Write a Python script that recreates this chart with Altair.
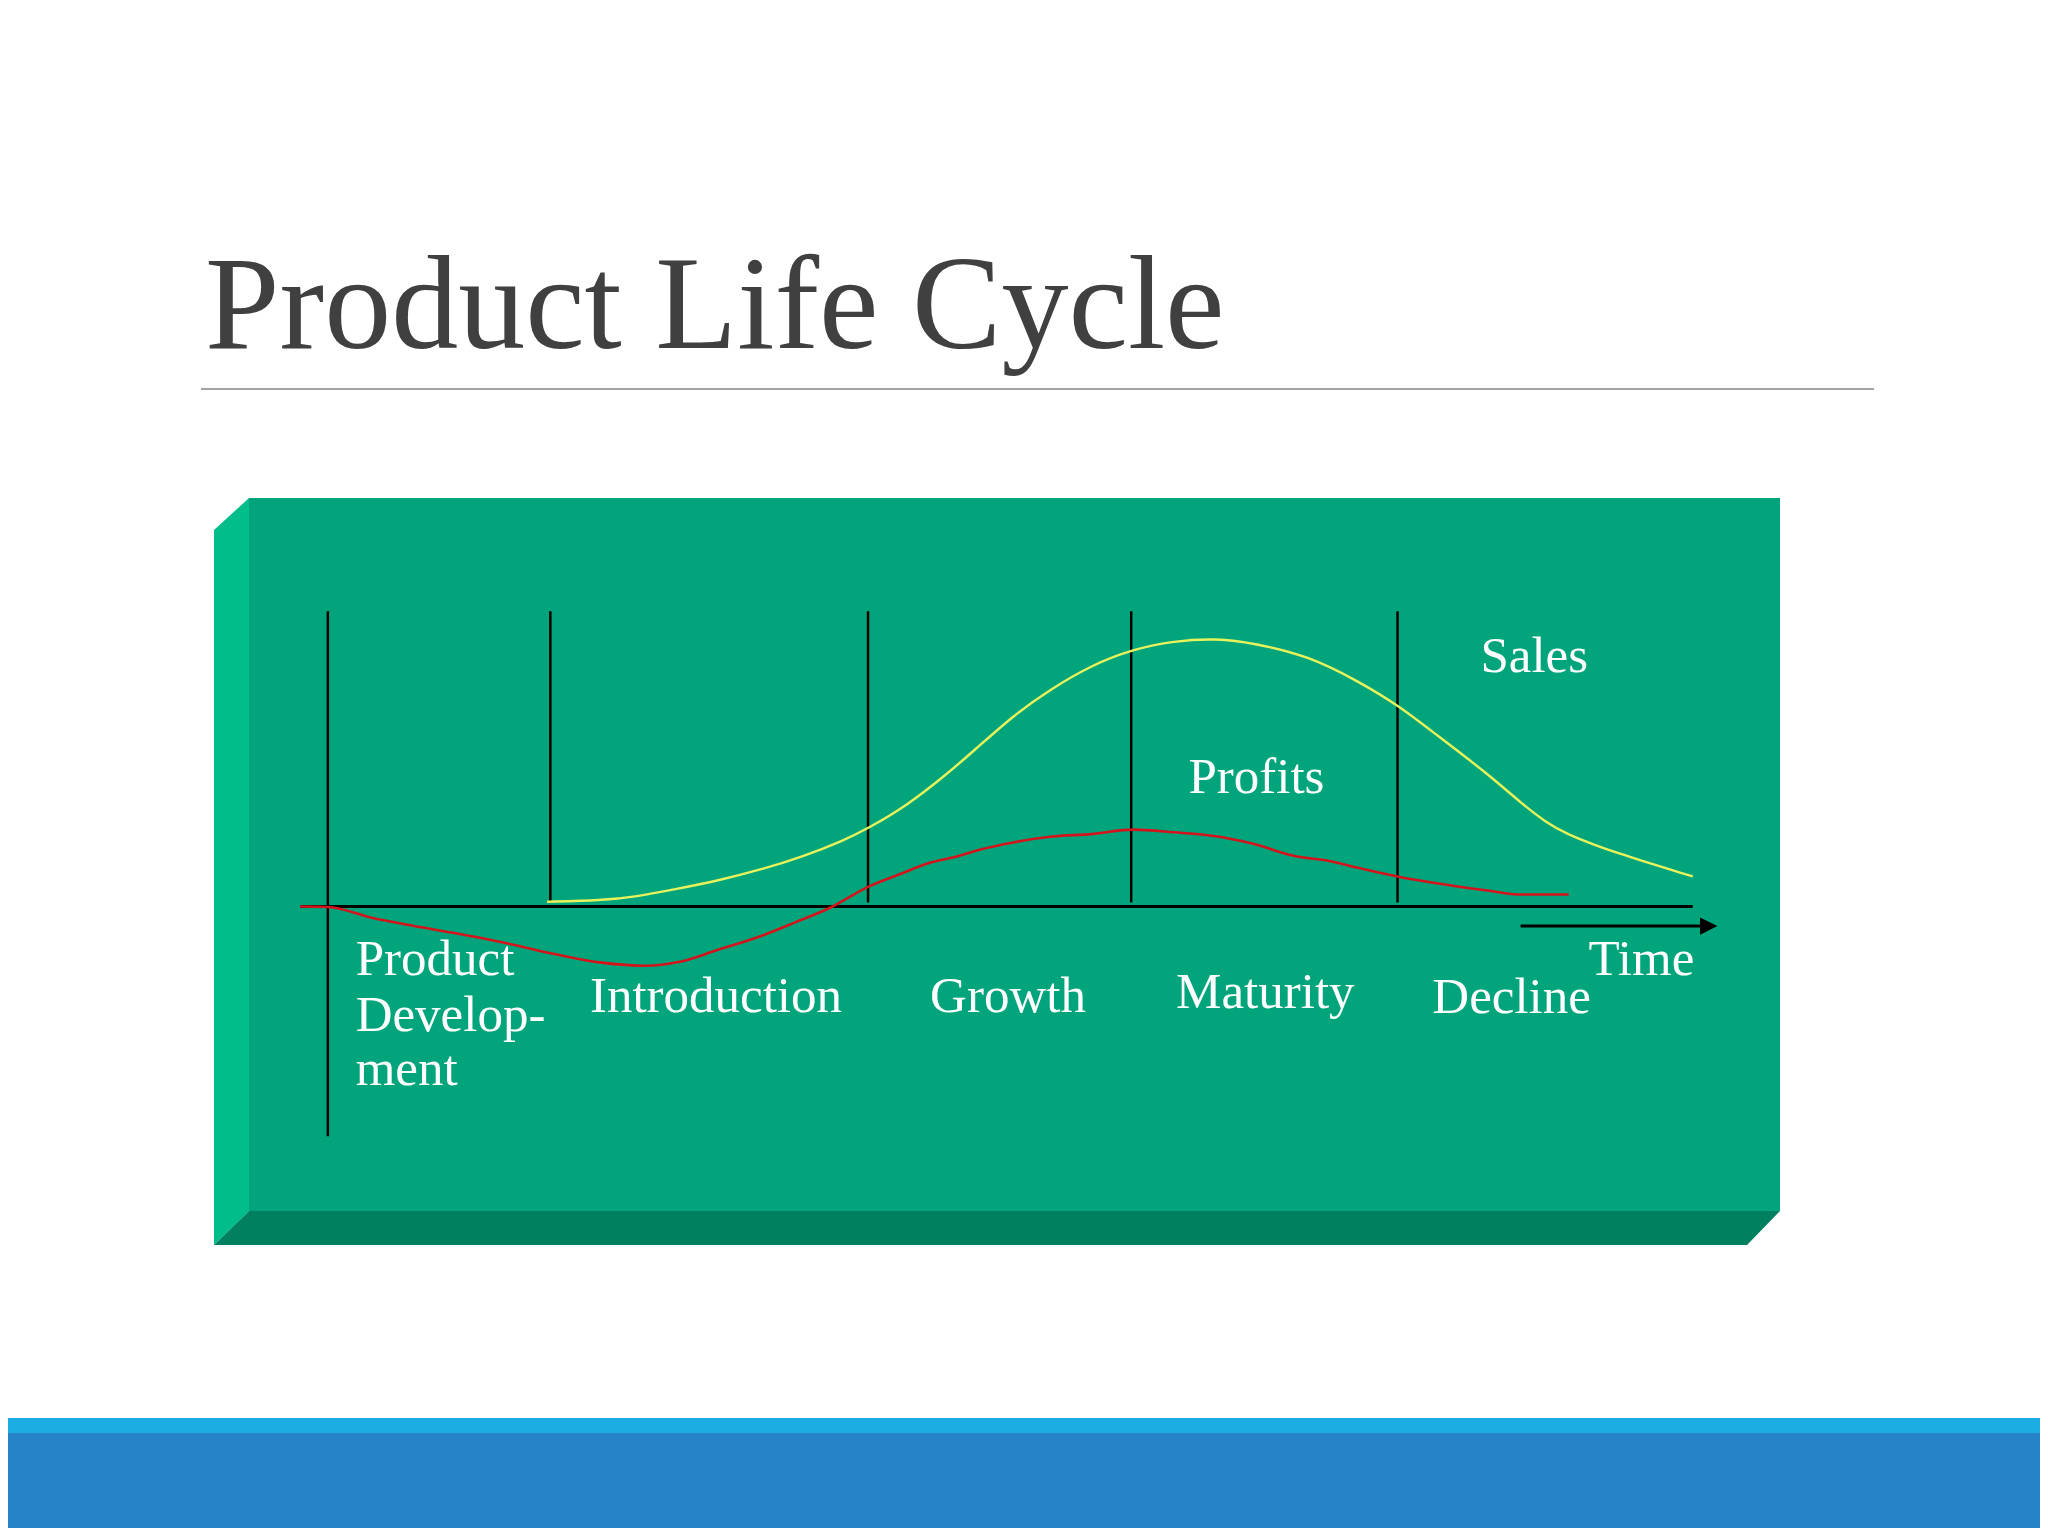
import altair as alt
import pandas as pd

# ---------------- data (chart units: t = time, v = value; 0 on the time axis) ----------------
sales_t = [20.5, 25.6, 28.8, 32.6, 36.4, 40.7, 44.4, 48.1, 50.5, 54.1, 57.8, 60.5, 64.2, 67.5,
           71.4, 75.3, 79.1, 83.0, 86.8, 91.6, 96.4, 100.2, 103.5, 108.4, 111.7, 113.9, 115.6,
           120.4, 127.6]
sales_v = [1.8, 2.3, 3.7, 6.7, 9.8, 14.3, 19.1, 25.0, 29.9, 38.5, 50.4, 60.0, 73.5, 83.0,
           92.4, 98.5, 101.6, 102.7, 100.6, 96.0, 86.1, 76.6, 66.1, 50.9, 39.0, 32.2, 28.0,
           20.4, 11.5]

profit_t = [-2.6, 0, 4.2, 7.3, 11.7, 16.5, 21.3, 25.6, 29.7, 32.8, 36.4, 40.7, 43.8, 47.1,
            50.5, 53.5, 56.2, 58.6, 61.1, 64.2, 67.5, 71.4, 75.3, 79.1, 83.0, 86.3, 90.6,
            93.5, 96.4, 100.2, 103.5, 108.4, 111.2, 116.0]
profit_v = [0, -0.2, -4.4, -6.9, -10.1, -13.9, -18.3, -21.5, -22.7, -21.3, -16.7, -11.0, -5.9,
            -0.2, 7.5, 12.4, 16.6, 18.9, 21.9, 24.6, 26.7, 27.7, 29.4, 28.4, 26.9, 24.2, 19.1,
            17.5, 14.7, 11.3, 9.0, 6.1, 4.6, 4.6]

stage_bounds = [0, 20.8, 50.5, 75.1, 100.0]
stage_top = [113, 113, 113, 113, 113]
stage_bottom = [-88, 1.5, 1.5, 1.5, 1.5]

axis_t = [-2.6, 127.6]
arrow_t = [111.5, 128.5]
arrow_tip_t = 129.9
arrow_v = -7.5

label_text = ["Product", "Develop-", "ment", "Introduction", "Growth", "Maturity",
              "Decline", "Time", "Sales", "Profits"]
label_t = [2.6, 2.6, 2.6, 24.5, 56.3, 79.3, 103.25, 117.85, 107.75, 80.45]
label_v = [-26.3, -47.8, -68.2, -40.5, -40.5, -39.0, -40.9, -26.3, 89.6, 43.3]

title_text = "Product Life Cycle"

# ---------------- layout ----------------
W, H = 2032, 1520        # keeps the page (with its 8px margin) inside 2048x1536
M = 8
K = 2048 / 1568          # preview px -> page px
X0_PREV, X_UNIT = 251, 8.19
Y0_PREV, Y_UNIT = 694, 2.0
t_min = (M / K - X0_PREV) / X_UNIT
t_max = ((W + M) / K - X0_PREV) / X_UNIT
v_top = (Y0_PREV - M / K) / Y_UNIT
v_bot = (Y0_PREV - (H + M) / K) / Y_UNIT

xs = alt.Scale(domain=[t_min, t_max], nice=False, zero=False)
ys = alt.Scale(domain=[v_bot, v_top], nice=False, zero=False)

def X(f):
    return alt.X(f, type="quantitative", scale=xs, axis=None)

def Y(f):
    return alt.Y(f, type="quantitative", scale=ys, axis=None)

one = pd.DataFrame({"d": [0]})
FONT = "Liberation Serif"

# ---------------- slide decorations ----------------
footer_light = alt.Chart(one).mark_rect(color="#1badE1").encode(
    x=alt.value(0), x2=alt.value(W), y=alt.value(1410), y2=alt.value(1426))
footer_dark = alt.Chart(one).mark_rect(color="#2783c7").encode(
    x=alt.value(0), x2=alt.value(W), y=alt.value(1425), y2=alt.value(H))

title = alt.Chart(one).mark_text(
    font=FONT, fontSize=134, color="#404040", align="left", baseline="alphabetic"
).encode(x=alt.value(197), y=alt.value(340), text=alt.value(title_text))

title_rule = alt.Chart(one).mark_rule(color="#a3a3a3", strokeWidth=2).encode(
    x=alt.value(193), x2=alt.value(1866), y=alt.value(381))

face = alt.Chart(one).mark_rect(color="#02a57b").encode(
    x=alt.value(241), x2=alt.value(1772), y=alt.value(490), y2=alt.value(1203))

left_bevel_path = "M206,522L241,490L241,1203L206,1237Z"
bottom_bevel_path = "M206,1237L241,1203L1772,1203L1739,1237Z"
left_bevel = alt.Chart(one).mark_point(
    shape=left_bevel_path, size=4, filled=True, opacity=1, color="#00bd8a", strokeWidth=0
).encode(x=alt.value(0), y=alt.value(0))
bottom_bevel = alt.Chart(one).mark_point(
    shape=bottom_bevel_path, size=4, filled=True, opacity=1, color="#00805f", strokeWidth=0
).encode(x=alt.value(0), y=alt.value(0))

# ---------------- chart content ----------------
sales_df = pd.DataFrame({"t": sales_t, "v": sales_v})
profit_df = pd.DataFrame({"t": profit_t, "v": profit_v})
stage_df = pd.DataFrame({"t": stage_bounds, "top": stage_top, "bot": stage_bottom})
axis_df = pd.DataFrame({"t": [axis_t[0]], "t2": [axis_t[1]], "v": [0]})
arrow_df = pd.DataFrame({"t": [arrow_t[0]], "t2": [arrow_t[1]], "v": [arrow_v]})
tip_df = pd.DataFrame({"t": [arrow_tip_t], "v": [arrow_v]})
label_df = pd.DataFrame({"label": label_text, "t": label_t, "v": label_v})

stage_lines = alt.Chart(stage_df).mark_rule(color="black", strokeWidth=2.5).encode(
    x=X("t"), y=Y("top"), y2="bot")

axis_line = alt.Chart(axis_df).mark_rule(color="black", strokeWidth=3).encode(
    x=X("t"), x2="t2", y=Y("v"))

arrow_line = alt.Chart(arrow_df).mark_rule(color="black", strokeWidth=3).encode(
    x=X("t"), x2="t2", y=Y("v"))

arrow_head = alt.Chart(tip_df).mark_point(
    shape="M0,0L-2,-1L-2,1Z", size=300, filled=True, opacity=1, color="black", strokeWidth=0
).encode(x=X("t"), y=Y("v"))

sales_line = alt.Chart(sales_df).mark_line(
    color="#e8f25c", strokeWidth=2.4, interpolate="basis"
).encode(x=X("t"), y=Y("v"), order="t:Q")

profit_line = alt.Chart(profit_df).mark_line(
    color="#d3141c", strokeWidth=2.6, interpolate="monotone"
).encode(x=X("t"), y=Y("v"), order="t:Q")

labels = alt.Chart(label_df).mark_text(
    font=FONT, fontSize=51, color="white", align="left", baseline="alphabetic"
).encode(x=X("t"), y=Y("v"), text="label:N")

chart = alt.layer(
    footer_light, footer_dark, title, title_rule,
    left_bevel, bottom_bevel, face,
    stage_lines, axis_line, arrow_line, arrow_head,
    sales_line, profit_line, labels,
).properties(
    width=W, height=H, padding=0,
    autosize=alt.AutoSizeParams(type="none"),
    background="white",
).configure_view(stroke=None)

chart.save("out.html", embed_options={"renderer": "svg", "actions": False})
